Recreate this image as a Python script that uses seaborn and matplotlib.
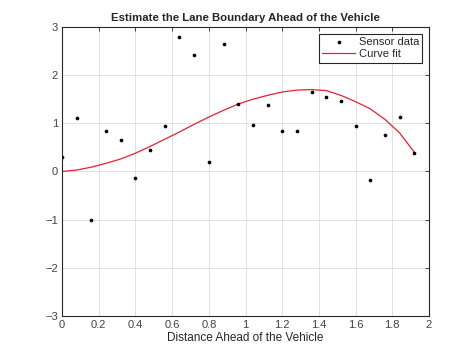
import numpy as np
import pandas as pd
import matplotlib
matplotlib.use("Agg")
import matplotlib.pyplot as plt
import seaborn as sns

# sensor samples along the road
distance = [0.00, 0.08, 0.16, 0.24, 0.32, 0.40, 0.48, 0.56, 0.64, 0.72, 0.80, 0.88, 0.96,
            1.04, 1.12, 1.20, 1.28, 1.36, 1.44, 1.52, 1.60, 1.68, 1.76, 1.84, 1.92]
sensor = [0.30, 1.12, -1.00, 0.84, 0.65, -0.13, 0.45, 0.95, 2.80, 2.42, 0.20, 2.65, 1.40,
          0.96, 1.37, 0.83, 0.83, 1.66, 1.55, 1.46, 0.95, -0.18, 0.76, 1.14, 0.39]
# fitted curve
fit = [0.00, 0.03, 0.09, 0.17, 0.26, 0.38, 0.52, 0.67, 0.82, 0.98, 1.13, 1.27, 1.40,
       1.50, 1.58, 1.65, 1.69, 1.70, 1.68, 1.58, 1.45, 1.30, 1.08, 0.80, 0.40]

xticks = [0, 0.2, 0.4, 0.6, 0.8, 1, 1.2, 1.4, 1.6, 1.8, 2]
xtick_labels = ["0", "0.2", "0.4", "0.6", "0.8", "1", "1.2", "1.4", "1.6", "1.8", "2"]
yticks = [-3, -2, -1, 0, 1, 2, 3]

df = pd.DataFrame({"distance": distance, "sensor": sensor, "fit": fit})

sns.set_style("whitegrid")
plt.rcParams["font.family"] = ["Liberation Sans", "DejaVu Sans"]

fig = plt.figure(figsize=(4.74, 3.55), dpi=100)
ax = fig.add_axes([0.131, 0.110, 0.774, 0.814])

sns.scatterplot(data=df, x="distance", y="sensor", ax=ax, color="black", marker="o",
                s=7, linewidth=0, label="Sensor data", zorder=3)
sns.lineplot(data=df, x="distance", y="fit", ax=ax, color="#e8212e", linewidth=0.9,
             label="Curve fit", zorder=2)

ax.set_xlim(0, 2)
ax.set_ylim(-3, 3)
ax.set_xticks(xticks)
ax.set_xticklabels(xtick_labels)
ax.set_yticks(yticks)
ax.set_xlabel("Distance Ahead of the Vehicle", fontsize=8.5, color="#262626", labelpad=1)
ax.set_ylabel("")
ax.set_title("Estimate the Lane Boundary Ahead of the Vehicle", fontsize=8.2,
             fontweight="bold", pad=4)

ax.grid(True, color="#dcdcdc", linewidth=0.6)
for sp in ax.spines.values():
    sp.set_visible(True)
    sp.set_color("#262626")
    sp.set_linewidth(0.8)
ax.tick_params(direction="in", length=3, width=0.6, top=True, right=True,
               labelsize=8, colors="#262626", pad=3)
ax.tick_params(axis="both", labelcolor="#404040")

leg = ax.legend(loc="upper right", fontsize=8, frameon=True, fancybox=False,
                edgecolor="#262626", framealpha=1, borderpad=0.3,
                handlelength=3.0, handletextpad=0.3, labelspacing=0.2,
                borderaxespad=0.6)
leg.get_frame().set_linewidth(0.8)

fig.savefig("out.png", dpi=100)
